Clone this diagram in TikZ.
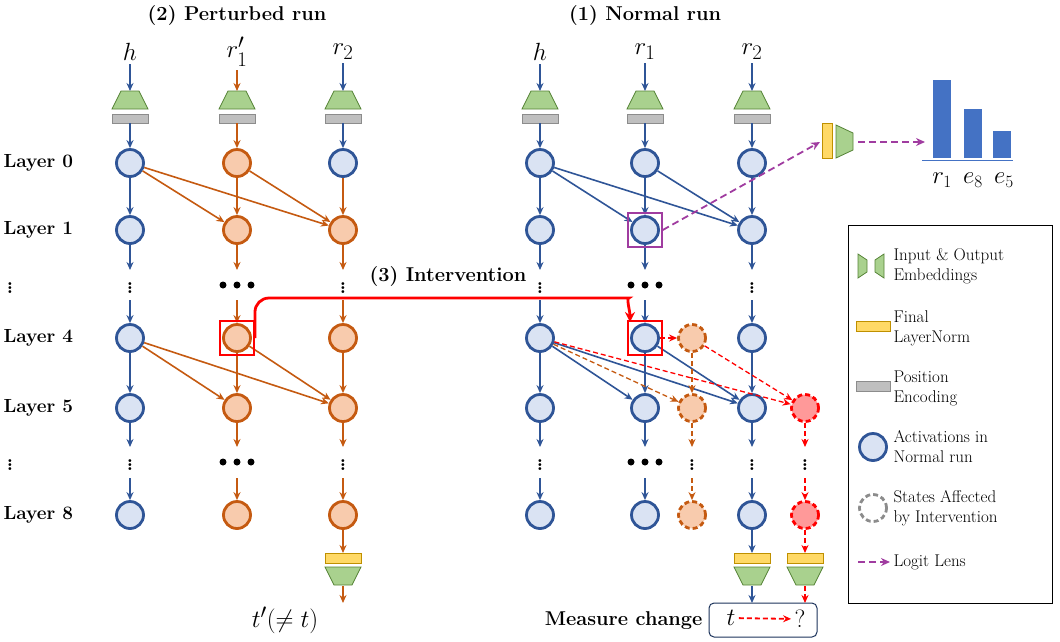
\documentclass[tikz,border=0pt]{standalone}
\usepackage{amssymb}
\usetikzlibrary{arrows.meta,calc}
\definecolor{bl}{HTML}{2F5597}
\definecolor{blf}{HTML}{DAE3F3}
\definecolor{bar}{HTML}{4472C4}
\definecolor{og}{HTML}{C55A11}
\definecolor{ogf}{HTML}{F8CBAD}
\definecolor{rd}{HTML}{FF0000}
\definecolor{rdf}{HTML}{FF9999}
\definecolor{gn}{HTML}{A9D18E}
\definecolor{gne}{HTML}{548235}
\definecolor{yl}{HTML}{FFD966}
\definecolor{yle}{HTML}{BF9000}
\definecolor{gy}{HTML}{BFBFBF}
\definecolor{gye}{HTML}{8C8C8C}
\definecolor{pu}{HTML}{A03CA0}
\tikzset{
  act/.style={circle,minimum size=27pt,inner sep=0pt,line width=2.8pt,draw=bl,fill=blf},
  pert/.style={act,draw=og,fill=ogf},
  aff/.style={pert,dash pattern=on 5pt off 3pt},
  affr/.style={act,draw=rd,fill=rdf,dash pattern=on 5pt off 3pt},
  ba/.style={-{Stealth[length=8pt,width=7pt]},line width=1.6pt,draw=bl},
  oa/.style={ba,draw=og},
  oda/.style={oa,line width=1.3pt,dash pattern=on 5pt off 3pt},
  rda/.style={ba,draw=rd,line width=1.3pt,dash pattern=on 5pt off 3pt},
  pda/.style={-{Stealth[length=9pt,width=8pt]},draw=pu,line width=1.8pt,dash pattern=on 7pt off 4pt},
  lab/.style={font=\fontsize{19}{21}\selectfont\bfseries},
  head/.style={font=\fontsize{20}{22}\selectfont\bfseries},
  tok/.style={font=\fontsize{29}{31}\selectfont},
  leg/.style={font=\fontsize{17}{20}\selectfont,align=left,anchor=west},
  dotsv/.style={font=\fontsize{20}{20}\selectfont\bfseries},
  bul/.style={circle,fill=black,inner sep=0pt,minimum size=7pt},
}
\newcommand{\inemb}[2]{%
  \fill[gn,draw=gne,line width=0.8pt] (#1-18,#2+9) -- (#1+18,#2+9) -- (#1+9,#2-9) -- (#1-9,#2-9) -- cycle;
  \fill[gy,draw=gye,line width=0.8pt] (#1-18,#2+14) rectangle (#1+18,#2+23);}
\newcommand{\outemb}[2]{%
  \fill[yl,draw=yle,line width=0.8pt] (#1-18,#2-19) rectangle (#1+18,#2-9);
  \fill[gn,draw=gne,line width=0.8pt] (#1-18,#2-5) -- (#1+18,#2-5) -- (#1+9,#2+13) -- (#1-9,#2+13) -- cycle;}
\newcommand{\bullets}[2]{%
  \node[bul] at (#1-14,#2) {}; \node[bul] at (#1,#2) {}; \node[bul] at (#1+14,#2) {};}
\begin{document}
\begin{tikzpicture}[x=1pt,y=-1pt]
\useasboundingbox (0,0) rectangle (1060,641);
% headings
\node[head] (t2) at (237,16) {(2) Perturbed run};
\node[head] (t1) at (645,16) {(1) Normal run};
% layer labels
\foreach \t/\y in {Layer 0/163,Layer 1/230,Layer 4/338,Layer 5/408,Layer 8/515}
  \node[lab,anchor=west] at (0,\y) {\t};
\node[dotsv] at (10,285) {$\vdots$};
\node[dotsv] at (10,462) {$\vdots$};
% tokens
\node[tok] (ph) at (130,52) {$h$};
\node[tok] (pr1) at (237,52) {$r_1'$};
\node[tok] (pr2) at (343,52) {$r_2$};
\node[tok] (nh) at (540,52) {$h$};
\node[tok] (nr1) at (645,52) {$r_1$};
\node[tok] (nr2) at (752,52) {$r_2$};
\foreach \x in {130,237,343,540,645,752} \inemb{\x}{100};
\foreach \n/\x in {ph/130,pr1/237,pr2/343,nh/540,nr1/645,nr2/752} {
  \coordinate (\n-e) at (\x,91);
  \coordinate (\n-g) at (\x,123);
}
% nodes
\foreach \l/\y in {0/163,1/230,4/338,5/408,8/515} {
  \node[act] (ph\l) at (130,\y) {};
  \node[pert] (pr1\l) at (237,\y) {};
  \node[act] (nh\l) at (540,\y) {};
  \node[act] (nr1\l) at (645,\y) {};
  \node[act] (nr2\l) at (752,\y) {};
}
\foreach \l/\y in {1/230,4/338,5/408,8/515} \node[pert] (pr2\l) at (343,\y) {};
\node[act] (pr20) at (343,163) {};
\node[aff] (o4) at (692,338) {};
\node[aff] (o5) at (692,408) {};
\node[aff] (o8) at (692,515) {};
\node[affr] (q5) at (805,408) {};
\node[affr] (q8) at (805,515) {};
% dots rows
\foreach \x in {130,343,540,752} {
  \node[dotsv] at (\x,285) {$\vdots$};
  \node[dotsv] at (\x,462) {$\vdots$};
}
\node[dotsv] at (692,462) {$\vdots$};
\node[dotsv] at (805,462) {$\vdots$};
\bullets{237}{285} \bullets{237}{462} \bullets{645}{285} \bullets{645}{462}
% inputs
\draw[ba] (ph) -- (ph-e); \draw[oa] (pr1) -- (pr1-e); \draw[ba] (pr2) -- (pr2-e);
\draw[ba] (nh) -- (nh-e); \draw[ba] (nr1) -- (nr1-e); \draw[ba] (nr2) -- (nr2-e);
\draw[ba] (ph-g) -- (ph0); \draw[oa] (pr1-g) -- (pr10); \draw[ba] (pr2-g) -- (pr20);
\draw[ba] (nh-g) -- (nh0); \draw[ba] (nr1-g) -- (nr10); \draw[ba] (nr2-g) -- (nr20);
% vertical edges
\foreach \n/\s in {ph/ba,pr1/oa,pr2/oa,nh/ba,nr1/ba,nr2/ba} {
  \draw[\s] (\n0) -- (\n1);
  \draw[\s] (\n4) -- (\n5);
}
\foreach \n/\x/\s in {ph/130/ba,pr1/237/oa,pr2/343/oa,nh/540/ba,nr1/645/ba,nr2/752/ba} {
  \coordinate (\n-a) at (\x,270); \coordinate (\n-b) at (\x,300);
  \coordinate (\n-c) at (\x,447); \coordinate (\n-d) at (\x,478);
  \draw[\s] (\n1) -- (\n-a); \draw[\s] (\n-b) -- (\n4);
  \draw[\s] (\n5) -- (\n-c); \draw[\s] (\n-d) -- (\n8);
}
% cross edges perturbed
\draw[oa] (ph0) -- (pr11); \draw[oa] (ph0) -- (pr21); \draw[oa] (pr10) -- (pr21);
\draw[oa] (ph4) -- (pr15); \draw[oa] (ph4) -- (pr25); \draw[oa] (pr14) -- (pr25);
% cross edges normal
\draw[ba] (nh0) -- (nr11); \draw[ba] (nh0) -- (nr21); \draw[ba] (nr10) -- (nr21);
\draw[ba] (nh4) -- (nr15); \draw[ba] (nh4) -- (nr25); \draw[ba] (nr14) -- (nr25);
% affected states
\draw[rda] (nr14) -- (o4);
\draw[oda] (nh4) -- (o5);
\draw[rda] (nh4) -- (q5);
\draw[rda] (o4) -- (q5);
\draw[oda] (o4) -- (o5);
\coordinate (o-c) at (692,447); \coordinate (o-d) at (692,478);
\coordinate (q-c) at (805,447); \coordinate (q-d) at (805,478);
\draw[oda] (o5) -- (o-c); \draw[oda] (o-d) -- (o8);
\draw[rda] (q5) -- (q-c); \draw[rda] (q-d) -- (q8);
% outputs
\outemb{343}{572} \outemb{752}{572} \outemb{805}{572}
\coordinate (pr2-y) at (343,553); \coordinate (nr2-y) at (752,553); \coordinate (q-y) at (805,553);
\draw[oa] (pr28) -- (pr2-y); \draw[ba] (nr28) -- (nr2-y); \draw[rda] (q8) -- (q-y);
\node[tok] (pt) at (285,620) {$t'(\neq t)$};
\coordinate (pr2-o) at (343,586); \coordinate (pr2-p) at (343,603);
\draw[oa] (pr2-o) -- (pr2-p);
\node[head,anchor=east] (mc) at (706,621) {Measure change};
\node[draw=bl!60!black,rounded corners=5pt,line width=1pt,minimum width=108pt,minimum height=34pt] (mb) at (763,620) {};
\node[tok] (mt) at (731,618) {$t$};
\node[tok,font=\fontsize{25}{27}\selectfont] (mq) at (800,619) {?};
\draw[rda,line width=1.8pt] (mt) -- (mq);
\coordinate (nr2-o) at (752,586); \coordinate (nr2-p) at (752,603);
\coordinate (q-o) at (805,586); \coordinate (q-p) at (805,603);
\draw[ba] (nr2-o) -- (nr2-p);
\draw[rda] (q-o) -- (q-p);
% intervention
\node[draw=rd,line width=1.8pt,minimum size=34pt] (bx1) at (237,338) {};
\node[draw=rd,line width=1.8pt,minimum size=34pt] (bx2) at (645,338) {};
\draw[rd,line width=2.8pt,-{Stealth[length=10pt,width=10pt]},rounded corners=14pt]
  (bx1.east) -- (255,298) -- (615,298) to[out=0,in=90] (630,322);
\node[head,fill=white,inner sep=1pt] (iv) at (448,277) {(3) Intervention};
% logit lens
\node[draw=pu,line width=1.5pt,minimum size=34pt] (bx3) at (645,230) {};
\fill[yl,draw=yle,line width=0.8pt] (822,123) rectangle (832,158);
\fill[gn,draw=gne,line width=0.8pt] (836,125) -- (853,133) -- (853,150) -- (836,158) -- cycle;
\coordinate (ll) at (820,142);
\draw[pda] (bx3.east) -- (ll);
\coordinate (ls) at (858,142); \coordinate (le) at (925,142);
\draw[pda] (ls) -- (le);
\fill[bar] (933,80) rectangle (951,158);
\fill[bar] (964,109) rectangle (982,158);
\fill[bar] (993,131) rectangle (1011,158);
\draw[bar,line width=0.8pt] (922,160) -- (1013,160);
\node[tok,font=\fontsize{26}{28}\selectfont] at (942,180) {$r_1$};
\node[tok,font=\fontsize{26}{28}\selectfont] at (973,180) {$e_8$};
\node[tok,font=\fontsize{26}{28}\selectfont] at (1004,180) {$e_5$};
% legend
\draw[line width=1pt] (848,225) rectangle (1052,603);
\fill[gn,draw=gne,line width=0.8pt] (858,254) -- (867,260) -- (867,272) -- (858,278) -- cycle;
\fill[gn,draw=gne,line width=0.8pt] (884,254) -- (875,260) -- (875,272) -- (884,278) -- cycle;
\node[leg] at (890,266) {Input \& Output\\Embeddings};
\fill[yl,draw=yle,line width=0.8pt] (856,321) rectangle (890,331);
\node[leg] at (890,328) {Final\\LayerNorm};
\fill[gy,draw=gye,line width=0.8pt] (856,381) rectangle (890,391);
\node[leg] at (890,388) {Position\\Encoding};
\node[act] (la) at (873,447) {};
\node[leg] at (890,447) {Activations in\\Normal run};
\node[act,draw=gye,fill=white,dash pattern=on 5pt off 3pt] (ls2) at (873,508) {};
\node[leg] at (890,508) {States Affected\\by Intervention};
\coordinate (l1) at (858,562); \coordinate (l2) at (890,562);
\draw[pda] (l1) -- (l2);
\node[leg] at (890,562) {Logit Lens};
\end{tikzpicture}
\end{document}
